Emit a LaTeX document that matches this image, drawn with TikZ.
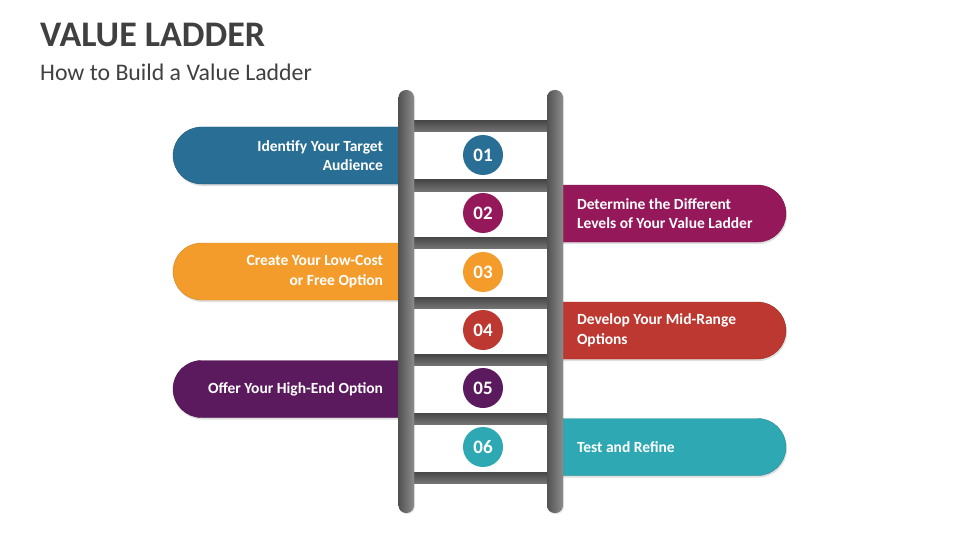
\documentclass[tikz,border=0pt]{standalone}
\usepackage{fontspec}
\setmainfont{Carlito}
\usepackage{tikz}
\usetikzlibrary{shapes}
\usetikzlibrary{positioning}
\usetikzlibrary{calc}
\usetikzlibrary{shadows}
\definecolor{vlblue}{HTML}{296E95}
\definecolor{vlmagenta}{HTML}{95185A}
\definecolor{vlorange}{HTML}{F39C2B}
\definecolor{vlred}{HTML}{BD3830}
\definecolor{vlpurple}{HTML}{5B1A5D}
\definecolor{vlteal}{HTML}{2EA9B4}
\definecolor{vltitle}{HTML}{404040}
\tikzstyle{tabl}=[
        rounded rectangle,
        rounded rectangle right arc=none,
        minimum width=232pt,
        minimum height=57pt,
        inner sep=0pt,
        drop shadow={opacity=0.25,shadow xshift=1pt,shadow yshift=-2pt}
]
\tikzstyle{tabr}=[
        rounded rectangle,
        rounded rectangle left arc=none,
        minimum width=231pt,
        minimum height=57pt,
        inner sep=0pt,
        drop shadow={opacity=0.25,shadow xshift=1pt,shadow yshift=-2pt}
]
\tikzstyle{labl}=[text=white,font=\fontsize{15.5}{19.5}\selectfont\bfseries,align=right,inner sep=0pt]
\tikzstyle{labr}=[text=white,font=\fontsize{15.5}{19.5}\selectfont\bfseries,align=left,inner sep=0pt]
\tikzstyle{num}=[circle,minimum size=40pt,inner sep=0pt,text=white,font=\fontsize{19}{19}\selectfont\bfseries]
\tikzstyle{rail}=[rounded corners=7.5pt,left color=black!68,right color=black!45,
        drop shadow={opacity=0.2,shadow xshift=1pt,shadow yshift=-1pt}]
\tikzstyle{rung}=[top color=black!72,bottom color=black!55]

\begin{document}
\begin{tikzpicture}[x=1pt,y=-1pt]
\useasboundingbox (0,0) rectangle (960,540);
\node[anchor=base west,inner sep=0pt,text=vltitle,font=\fontsize{36}{36}\selectfont\bfseries] (title) at (40,47) {VALUE LADDER};
\node[anchor=base west,inner sep=0pt,text=vltitle,font=\fontsize{23.8}{24}\selectfont] (sub) at (40,81) {How to Build a Value Ladder};
%Tabs
\node[tabl,fill=vlblue,draw=vlblue!80!black] (t1) at (289,155.5) {};
\node[tabr,fill=vlmagenta,draw=vlmagenta!80!black] (t2) at (670.5,213.5) {};
\node[tabl,fill=vlorange,draw=vlorange!85!black] (t3) at (289,271.5) {};
\node[tabr,fill=vlred,draw=vlred!80!black] (t4) at (670.5,330.5) {};
\node[tabl,fill=vlpurple,draw=vlpurple!80!black] (t5) at (289,389) {};
\node[tabr,fill=vlteal,draw=vlteal!80!black] (t6) at (670.5,447) {};
\node[labl,left=22pt of t1.east] (l1) {Identify Your Target\\Audience};
\node[labr,right=22pt of t2.west] (l2) {Determine the Different\\Levels of Your Value Ladder};
\node[labl,left=22pt of t3.east] (l3) {Create Your Low-Cost\\or Free Option};
\node[labr,right=22pt of t4.west] (l4) {Develop Your Mid-Range\\Options};
\node[labl,left=22pt of t5.east] (l5) {Offer Your High-End Option};
\node[labr,right=22pt of t6.west] (l6) {Test and Refine};
%Ladder
\foreach \y in {126,185.5,242.5,302.5,360,418.5,477.5}
  \fill[rung] (410,\y-5.5) rectangle (551,\y+5.5);
\draw[rail,draw=none] (398.5,90) rectangle (414,513);
\draw[rail,draw=none] (547,90) rectangle (563,513);
%Numbers
\node[num,fill=vlblue] (n1) at (483,155) {01};
\node[num,fill=vlmagenta] (n2) at (483,213) {02};
\node[num,fill=vlorange] (n3) at (483,272) {03};
\node[num,fill=vlred] (n4) at (483,330) {04};
\node[num,fill=vlpurple] (n5) at (483,388) {05};
\node[num,fill=vlteal] (n6) at (483,447) {06};
\end{tikzpicture}
\end{document}
